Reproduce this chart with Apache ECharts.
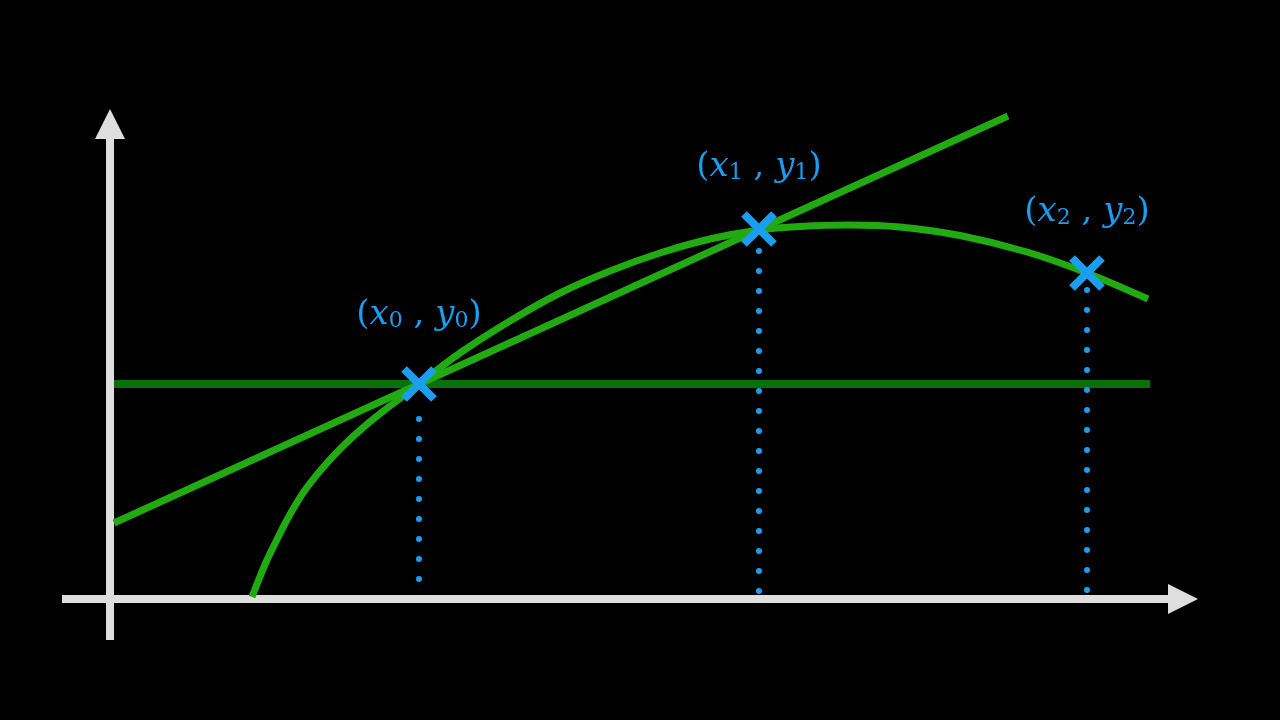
<!DOCTYPE html>
<html>
<head>
<meta charset="utf-8">
<script src="https://cdn.jsdelivr.net/npm/echarts@6/dist/echarts.min.js"></script>
<style>
html,body{margin:0;padding:0;background:#000;}
#c{width:1280px;height:720px;}
</style>
</head>
<body>
<div id="c"></div>
<script>
// ---- data ----
const curveX = [1.42, 1.55, 1.65, 1.78, 1.93, 2.10, 2.30, 2.55, 2.80, 3.09, 3.50, 4.00, 4.50, 5.00, 5.50, 6.00, 6.49, 6.90, 7.40, 7.90, 8.50, 9.17, 9.77, 10.38];
const curveY = [0.02, 0.345, 0.555, 0.81, 1.06, 1.28, 1.50, 1.73, 1.93, 2.15, 2.46, 2.78, 3.06, 3.28, 3.46, 3.60, 3.69, 3.725, 3.74, 3.72, 3.635, 3.47, 3.26, 3.00];
const secantX = [0.04, 8.98];
const secantY = [0.76, 4.83];
const levelX = [0.04, 10.40];
const levelY = [2.15, 2.15];
const pointX = [3.09, 6.49, 9.77];
const pointY = [2.15, 3.70, 3.26];
const pointSub = ['0', '1', '2'];
const dropTop = [1.80, 3.48, 3.09];
const dropBottom = [0.19, 0.07, 0.08];

// ---- styles ----
const BLUE = '#1b9df0';
const GREEN = '#22aa12';
const DARK_GREEN = '#0a700a';
const AXIS = '#dedede';
const labelGap = [33, 26, 25];

const zip = (xs, ys) => xs.map((x, i) => [x, ys[i]]);

const axisCommon = {
  type: 'value',
  axisLine: {
    show: true,
    onZero: true,
    symbol: ['none', 'triangle'],
    symbolSize: [30, 30],
    lineStyle: { color: AXIS, width: 8, cap: 'butt' }
  },
  axisTick: { show: false },
  axisLabel: { show: false },
  splitLine: { show: false }
};

const drops = pointX.map((x, i) => ({
  type: 'line',
  data: [[x, dropTop[i]], [x, dropBottom[i]]],
  showSymbol: false,
  silent: true,
  clip: false,
  lineStyle: { color: BLUE, width: 6, type: [0, 20], cap: 'round' },
  z: 3
}));

const chart = echarts.init(document.getElementById('c'));
chart.setOption({
  backgroundColor: '#000',
  animation: false,
  grid: { left: 62, right: 97, top: 124, bottom: 80, containLabel: false, outerBoundsMode: 'none' },
  xAxis: Object.assign({}, axisCommon, { min: -0.48, max: 10.73 }),
  yAxis: Object.assign({}, axisCommon, { min: -0.41, max: 4.75 }),
  series: [
    {
      type: 'line', data: zip(levelX, levelY), showSymbol: false, silent: true, clip: false,
      lineStyle: { color: DARK_GREEN, width: 8, cap: 'butt' }, z: 2
    },
    {
      type: 'line', data: zip(secantX, secantY), showSymbol: false, silent: true, clip: false,
      lineStyle: { color: GREEN, width: 7, cap: 'butt' }, z: 2
    },
    {
      type: 'line', data: zip(curveX, curveY), showSymbol: false, silent: true, clip: false,
      smooth: 0.3,
      lineStyle: { color: GREEN, width: 7, cap: 'butt', join: 'round' }, z: 2
    }
  ].concat(drops).concat([
    {
      type: 'scatter',
      silent: true,
      clip: false,
      symbol: 'path://M0,0L10,10M10,0L0,10',
      symbolSize: 30,
      z: 5,
      itemStyle: { color: 'rgba(0,0,0,0)', borderColor: BLUE, borderWidth: 8, opacity: 1 },
      data: pointX.map((x, i) => ({ value: [x, pointY[i]], label: { distance: labelGap[i] } })),
      label: {
        show: true,
        position: 'top',
        formatter: function (p) {
          const s = pointSub[p.dataIndex];
          return '{p|(}{v|x}{s|' + s + '}{p| , }{v|y}{s|' + s + '}{p|)}';
        },
        rich: {
          p: { color: BLUE, fontFamily: 'DejaVu Serif', fontSize: 34, lineHeight: 40, verticalAlign: 'bottom' },
          v: { color: BLUE, fontFamily: 'DejaVu Serif', fontStyle: 'italic', fontSize: 34, lineHeight: 40, verticalAlign: 'bottom' },
          s: { color: BLUE, fontFamily: 'DejaVu Serif', fontSize: 22, lineHeight: 27, verticalAlign: 'bottom' }
        }
      }
    }
  ])
});
</script>
</body>
</html>
